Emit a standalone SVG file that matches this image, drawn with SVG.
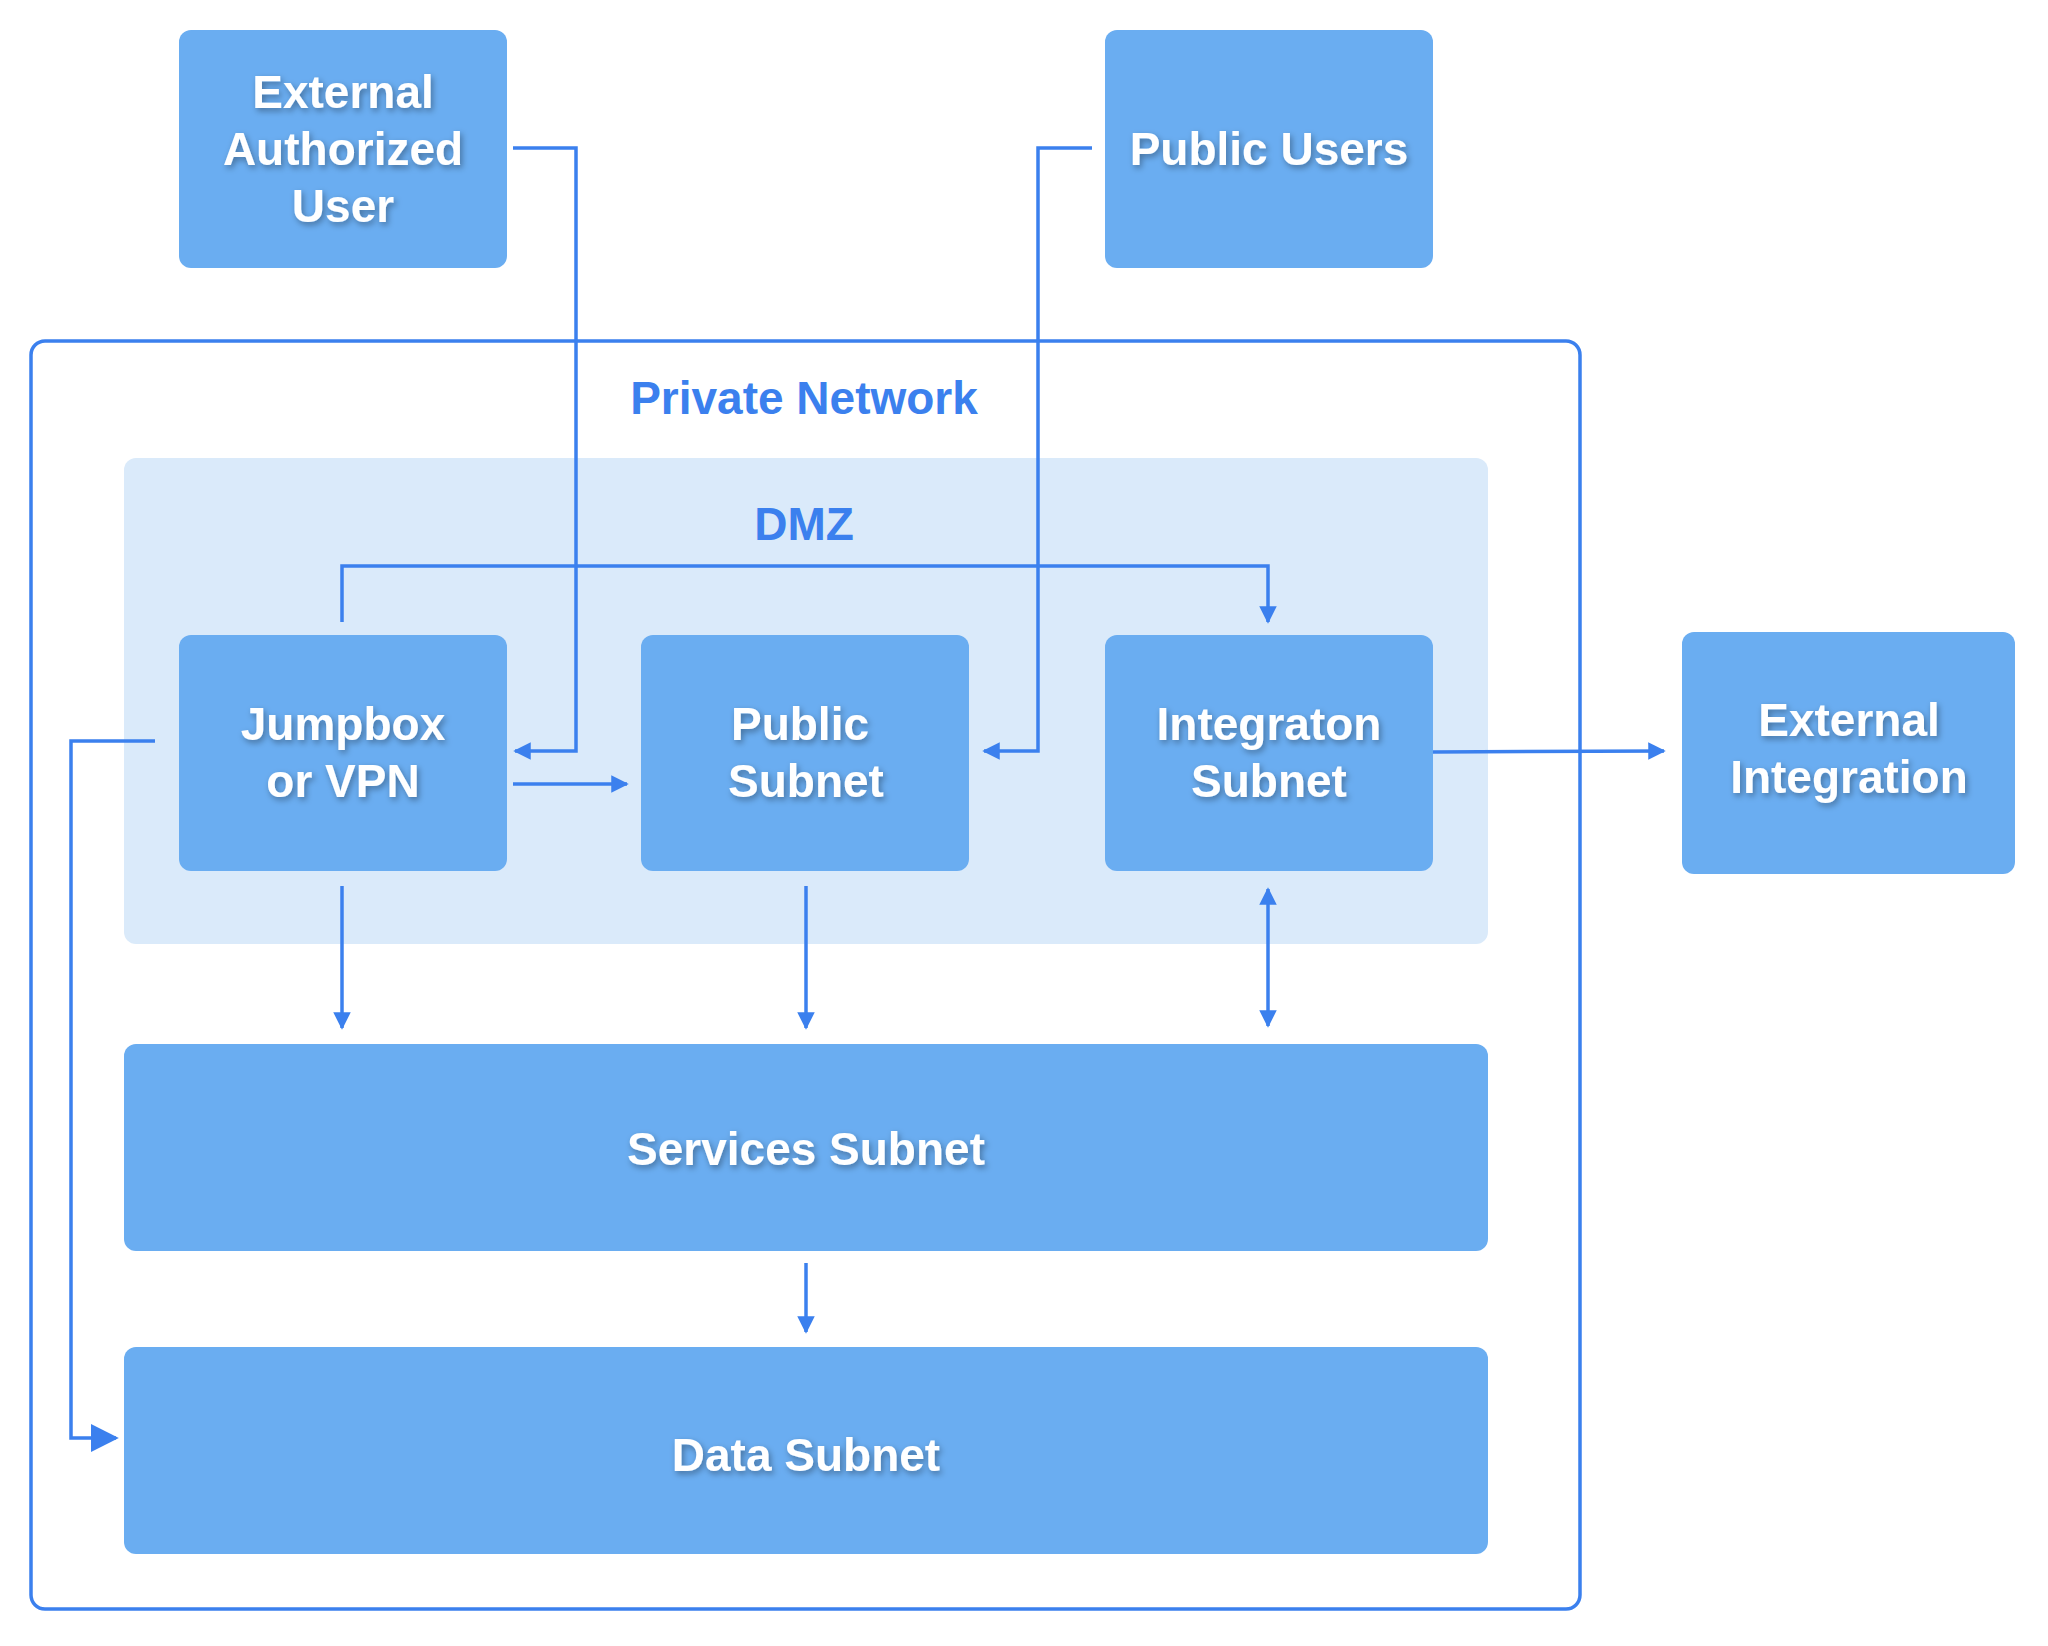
<svg xmlns="http://www.w3.org/2000/svg" width="2048" height="1646" viewBox="0 0 2048 1646">
<style>
.n{fill:#6aadf1}
.t{font-family:"Liberation Sans",Arial,sans-serif;font-weight:bold;font-size:46px;fill:#fff;text-anchor:middle;filter:url(#sh)}
.h{font-family:"Liberation Sans",Arial,sans-serif;font-weight:bold;font-size:46px;fill:#3b80ee;text-anchor:middle}
.c{fill:none;stroke:#3b80ee;stroke-width:3.5}
</style>
<defs>
<filter id="sh" x="-20%" y="-20%" width="140%" height="160%"><feDropShadow dx="2" dy="3" stdDeviation="3" flood-color="#000" flood-opacity="0.35"/></filter>
<marker id="a" viewBox="0 0 10 10" refX="9" refY="5" markerWidth="5" markerHeight="5" orient="auto-start-reverse"><path d="M0,0L10,5L0,10z" fill="#3b80ee"/></marker>
<marker id="b" viewBox="0 0 10 10" refX="9" refY="5" markerWidth="8" markerHeight="8" orient="auto"><path d="M0,0L10,5L0,10z" fill="#3b80ee"/></marker>
</defs>
<rect width="2048" height="1646" fill="#fff"/>
<g id="private-network"><rect x="31" y="341" width="1549" height="1268" rx="14" fill="none" stroke="#3b80ee" stroke-width="3.5"/><text class="h" x="804" y="414">Private Network</text></g>
<g id="dmz"><rect x="124" y="458" width="1364" height="486" rx="12" fill="#daeafa"/><text class="h" x="804" y="540">DMZ</text></g>
<g id="ext-auth-user"><rect class="n" x="179" y="30" width="328" height="238" rx="12"/><text class="t" x="343" y="108">External</text><text class="t" x="343" y="165">Authorized</text><text class="t" x="343" y="222">User</text></g>
<g id="public-users"><rect class="n" x="1105" y="30" width="328" height="238" rx="12"/><text class="t" x="1269" y="165">Public Users</text></g>
<g id="jumpbox"><rect class="n" x="179" y="635" width="328" height="236" rx="12"/><text class="t" x="343" y="740">Jumpbox</text><text class="t" x="343" y="797">or VPN</text></g>
<g id="public-subnet"><rect class="n" x="641" y="635" width="328" height="236" rx="12"/><text class="t" x="800" y="740">Public</text><text class="t" x="806" y="797">Subnet</text></g>
<g id="integration-subnet"><rect class="n" x="1105" y="635" width="328" height="236" rx="12"/><text class="t" x="1269" y="740">Integraton</text><text class="t" x="1269" y="797">Subnet</text></g>
<g id="external-integration"><rect class="n" x="1682" y="632" width="333" height="242" rx="12"/><text class="t" x="1849" y="736">External</text><text class="t" x="1849" y="793">Integration</text></g>
<g id="services-subnet"><rect class="n" x="124" y="1044" width="1364" height="207" rx="12"/><text class="t" x="806" y="1165">Services Subnet</text></g>
<g id="data-subnet"><rect class="n" x="124" y="1347" width="1364" height="207" rx="12"/><text class="t" x="806" y="1471">Data Subnet</text></g>
<g id="connectors">
<path class="c" d="M513,148H576V751H515" marker-end="url(#a)"/>
<path class="c" d="M1092,148H1038V751H984" marker-end="url(#a)"/>
<path class="c" d="M342,622V566H1268V622" marker-end="url(#a)"/>
<path class="c" d="M513,784H627" marker-end="url(#a)"/>
<path class="c" d="M1433,752L1664,751" marker-end="url(#a)"/>
<path class="c" d="M342,886V1028" marker-end="url(#a)"/>
<path class="c" d="M806,886V1028" marker-end="url(#a)"/>
<path class="c" d="M1268,889V1026" marker-start="url(#a)" marker-end="url(#a)"/>
<path class="c" d="M806,1263V1332" marker-end="url(#a)"/>
<path class="c" d="M155,741H71V1438H116" marker-end="url(#b)"/>
</g>
</svg>
